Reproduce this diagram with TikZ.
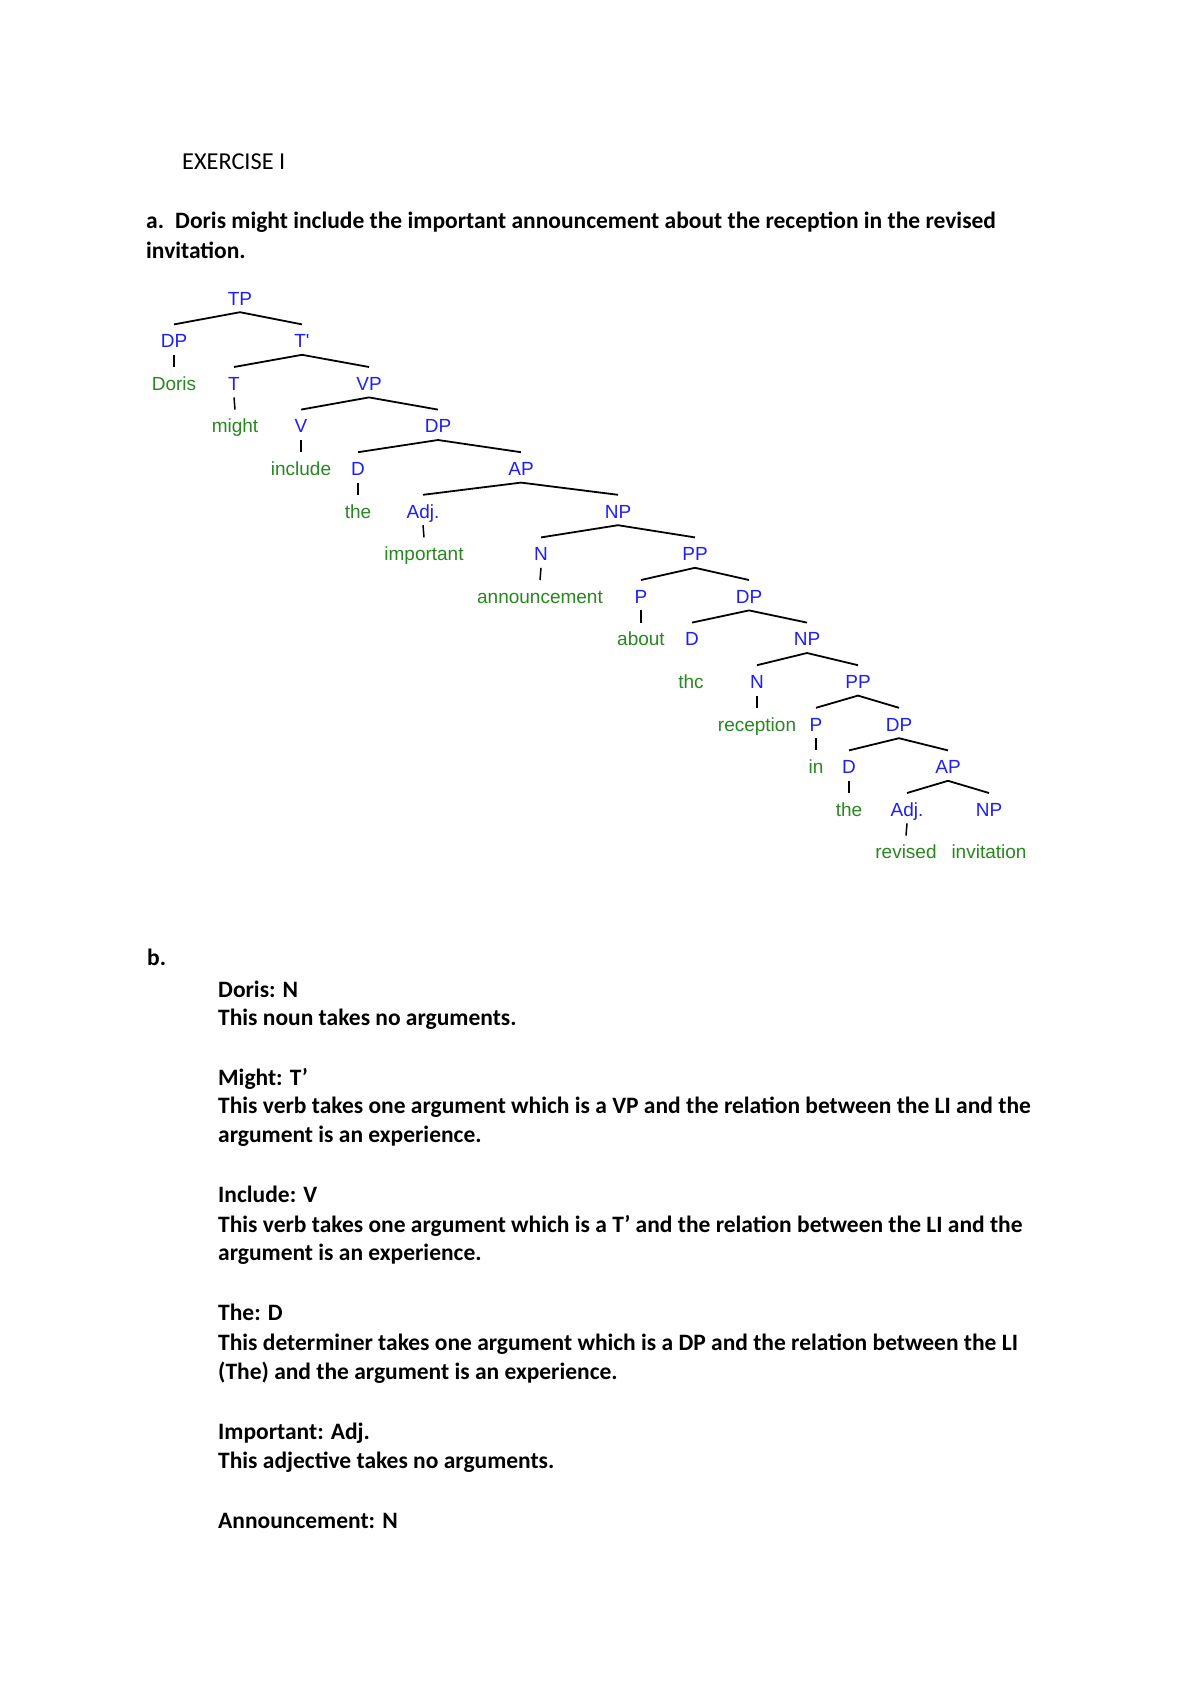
\documentclass[tikz,border=0pt]{standalone}
\usepackage{fontspec}
\setmainfont{Carlito}
\newfontfamily\treefont{Liberation Sans}
\definecolor{catblue}{RGB}{30,30,250}
\definecolor{wordgreen}{RGB}{40,135,30}
\tikzset{
  treelbl/.style={anchor=base,inner sep=0pt,text height=14pt,text depth=4pt,inner ysep=3pt,font=\treefont\fontsize{19}{22}\selectfont},
  cat/.style={treelbl,text=catblue},
  word/.style={treelbl,text=wordgreen},
  br/.style={draw=black,line width=1.8pt,line join=round},
  un/.style={draw=black,line width=1.5pt},
  body/.style={anchor=base west,inner sep=0pt,font=\fontsize{23.5}{27}\selectfont\bfseries},
  bodyr/.style={anchor=base west,inner sep=0pt,font=\fontsize{24.3}{28}\selectfont}
}
\newcommand{\branch}[3]{\draw[br] ([yshift=6pt]#2.north) -- (#1.south) -- ([yshift=6pt]#3.north);}
\newcommand{\unary}[2]{\draw[un] (#1.south) -- ([yshift=6pt]#2.north);}
\begin{document}
\begin{tikzpicture}[x=1pt,y=-1pt]
\useasboundingbox[fill=white] (0,0) rectangle (1200,1698);
% header
\node[bodyr] (ex) at (182,169) {EXERCISE I};
\node[body] (aa) at (146,228) {a.};
\node[body] (sent1) at (175,228) {Doris might include the important announcement about the reception in the revised};
\node[body] (sent2) at (146,258) {invitation.};
% tree
\node[cat] (tp) at (240,305) {TP};
\node[cat] (dp1) at (174,347.6) {DP};
\node[cat] (tb1) at (302,347.6) {T'};
\node[word] (doris) at (174,390.2) {Doris};
\node[cat] (t1) at (234,390.2) {T};
\node[cat] (vp) at (369,390.2) {VP};
\node[word] (might) at (235,432.8) {might};
\node[cat] (v) at (301,432.8) {V};
\node[cat] (dp2) at (438,432.8) {DP};
\node[word] (include) at (301,475.4) {include};
\node[cat] (d1) at (358,475.4) {D};
\node[cat] (ap1) at (521,475.4) {AP};
\node[word] (the1) at (358,518) {the};
\node[cat] (adj1) at (423,518) {Adj.};
\node[cat] (np1) at (618,518) {NP};
\node[word] (important) at (424,560.6) {important};
\node[cat] (n1) at (541,560.6) {N};
\node[cat] (pp1) at (695,560.6) {PP};
\node[word] (announcement) at (540,603.2) {announcement};
\node[cat] (p1) at (641,603.2) {P};
\node[cat] (dp3) at (749,603.2) {DP};
\node[word] (about) at (641,645.8) {about};
\node[cat] (d2) at (692,645.8) {D};
\node[cat] (np2) at (807,645.8) {NP};
\node[word] (the2) at (691,688.4) {thc};
\node[cat] (n2) at (757,688.4) {N};
\node[cat] (pp2) at (858,688.4) {PP};
\node[word] (reception) at (757,731) {reception};
\node[cat] (p2) at (816,731) {P};
\node[cat] (dp4) at (899,731) {DP};
\node[word] (in) at (816,773.6) {in};
\node[cat] (d3) at (849,773.6) {D};
\node[cat] (ap2) at (948,773.6) {AP};
\node[word] (the3) at (849,816.2) {the};
\node[cat] (adj2) at (907,816.2) {Adj.};
\node[cat] (np3) at (989,816.2) {NP};
\node[word] (revised) at (906,858.8) {revised};
\node[word] (invitation) at (989,858.8) {invitation};
\branch{tp}{dp1}{tb1}
\branch{tb1}{t1}{vp}
\branch{vp}{v}{dp2}
\branch{dp2}{d1}{ap1}
\branch{ap1}{adj1}{np1}
\branch{np1}{n1}{pp1}
\branch{pp1}{p1}{dp3}
\branch{dp3}{d2}{np2}
\branch{np2}{n2}{pp2}
\branch{pp2}{p2}{dp4}
\branch{dp4}{d3}{ap2}
\branch{ap2}{adj2}{np3}
\unary{dp1}{doris}
\unary{t1}{might}
\unary{v}{include}
\unary{d1}{the1}
\unary{adj1}{important}
\unary{n1}{announcement}
\unary{p1}{about}
\unary{n2}{reception}
\unary{p2}{in}
\unary{d3}{the3}
\unary{adj2}{revised}
% part b
\node[body] (bb) at (147,965) {b.};
\node[body] (l1) at (218,997) {Doris: N};
\node[body] (l2) at (218,1025) {This noun takes no arguments.};
\node[body] (l3) at (218,1085) {Might: T’};
\node[body] (l4) at (218,1113) {This verb takes one argument which is a VP and the relation between the LI and the};
\node[body] (l5) at (218,1142) {argument is an experience.};
\node[body] (l6) at (218,1202) {Include: V};
\node[body] (l7) at (218,1232) {This verb takes one argument which is a T’ and the relation between the LI and the};
\node[body] (l8) at (218,1260) {argument is an experience.};
\node[body] (l9) at (218,1320) {The: D};
\node[body] (l10) at (218,1350) {This determiner takes one argument which is a DP and the relation between the LI};
\node[body] (l11) at (218,1379) {(The) and the argument is an experience.};
\node[body] (l12) at (218,1439) {Important: Adj.};
\node[body] (l13) at (218,1468) {This adjective takes no arguments.};
\node[body] (l14) at (218,1528) {Announcement: N};
\end{tikzpicture}
\end{document}
